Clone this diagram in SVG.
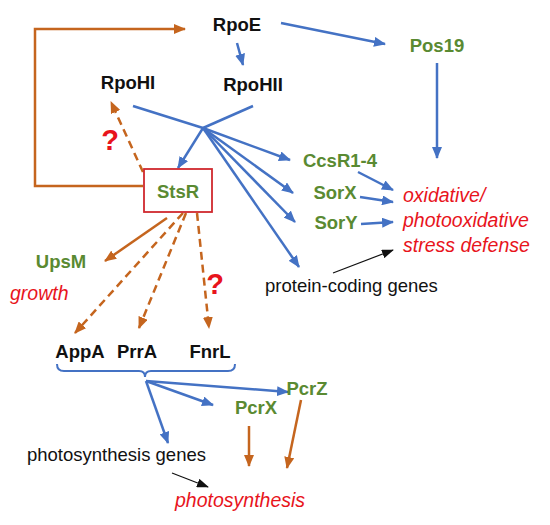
<svg xmlns="http://www.w3.org/2000/svg" width="550" height="525" viewBox="0 0 550 525">
<style>
.lbl{font-family:"Liberation Sans",Arial,sans-serif;font-weight:bold;font-size:18.5px;text-anchor:middle}
.blk{fill:#111}
.grn{fill:#5A8A32}
.red{font-family:"Liberation Sans",Arial,sans-serif;font-style:italic;font-size:19.5px;fill:#E8141C}
.plain{font-family:"Liberation Sans",Arial,sans-serif;font-size:18.5px;fill:#111}
.q{font-family:"Liberation Sans",Arial,sans-serif;font-weight:bold;font-size:29px;fill:#E8141C;text-anchor:middle}
.b{stroke:#4472C4;stroke-width:2.5;fill:none;marker-end:url(#ab)}
.o{stroke:#C5651E;stroke-width:2.5;fill:none}
.oa{marker-end:url(#ao)}
.d{stroke-dasharray:8 5}
.k{stroke:#111;stroke-width:1.2;fill:none;marker-end:url(#ak)}
</style>
<defs>
<marker id="ab" markerUnits="userSpaceOnUse" markerWidth="12" markerHeight="10" refX="11" refY="5" orient="auto" viewBox="0 0 12 10"><path d="M0,0 L12,5 L0,10 z" fill="#4472C4"/></marker>
<marker id="ao" markerUnits="userSpaceOnUse" markerWidth="12" markerHeight="10" refX="11" refY="5" orient="auto" viewBox="0 0 12 10"><path d="M0,0 L12,5 L0,10 z" fill="#C5651E"/></marker>
<marker id="ak" markerUnits="userSpaceOnUse" markerWidth="12" markerHeight="9" refX="11" refY="4.5" orient="auto" viewBox="0 0 12 9"><path d="M0,0 L12,4.5 L0,9 z" fill="#111"/></marker>
</defs>
<g id="connectors">
<path class="o oa" d="M143,186 H35 V29 H185"/>
<line class="b" x1="237" y1="43" x2="243" y2="65"/>
<line class="b" x1="281" y1="23" x2="385" y2="44"/>
<line class="b" x1="437" y1="63" x2="437" y2="158"/>
<line x1="133" y1="106" x2="203" y2="128" stroke="#4472C4" stroke-width="2.5"/>
<line x1="253" y1="106" x2="203" y2="128" stroke="#4472C4" stroke-width="2.5"/>
<line class="b" x1="203" y1="128" x2="178" y2="168"/>
<line class="b" x1="203" y1="128" x2="290" y2="160"/>
<line class="b" x1="203" y1="128" x2="293" y2="193"/>
<line class="b" x1="203" y1="128" x2="295" y2="222"/>
<line class="b" x1="203" y1="128" x2="299" y2="267"/>
<line class="b" x1="358" y1="172" x2="393" y2="190"/>
<line class="b" x1="360" y1="197" x2="393" y2="202"/>
<line class="b" x1="361" y1="224" x2="393" y2="222"/>
<line class="k" x1="333" y1="273" x2="393" y2="250"/>
<line class="o oa d" x1="143" y1="172" x2="111" y2="102"/>
<line class="o oa" x1="167" y1="218" x2="105" y2="261"/>
<line class="o oa d" x1="183" y1="213" x2="75" y2="333"/>
<line class="o oa d" x1="186" y1="213" x2="139" y2="328"/>
<line class="o oa d" x1="197" y1="213" x2="209" y2="328"/>
<path d="M57,364 Q57,371 64,371 L139,371 Q145,371 145,377 Q145,371 151,371 L228,371 Q235,371 235,364" stroke="#4472C4" stroke-width="2" fill="none"/>
<line class="b" x1="146" y1="381" x2="288" y2="392"/>
<line class="b" x1="146" y1="381" x2="213" y2="405"/>
<line class="b" x1="146" y1="381" x2="168" y2="443"/>
<line class="o oa" x1="249" y1="426" x2="249" y2="466"/>
<line class="o oa" x1="301" y1="400" x2="287" y2="468"/>
<line class="k" x1="172" y1="473" x2="208" y2="487"/>
</g>
<g id="RpoE"><text class="lbl blk" x="237" y="31">RpoE</text></g>
<g id="RpoHII"><text class="lbl blk" x="253" y="91">RpoHII</text></g>
<g id="RpoHI"><text class="lbl blk" x="128" y="89">RpoHI</text></g>
<g id="Pos19"><text class="lbl grn" x="437" y="52">Pos19</text></g>
<g id="CcsR1-4"><text class="lbl grn" x="340" y="167">CcsR1-4</text></g>
<g id="SorX"><text class="lbl grn" x="335" y="199">SorX</text></g>
<g id="SorY"><text class="lbl grn" x="336" y="229">SorY</text></g>
<g id="StsR"><rect x="144" y="169" width="68" height="43" fill="#fff" stroke="#D0282E" stroke-width="1.8"/><text class="lbl grn" x="178" y="198">StsR</text></g>
<g id="UpsM"><text class="lbl grn" x="61" y="268">UpsM</text></g>
<g id="growth"><text class="red" x="10" y="300">growth</text></g>
<g id="AppA"><text class="lbl blk" x="80" y="358">AppA</text></g>
<g id="PrrA"><text class="lbl blk" x="137" y="358">PrrA</text></g>
<g id="FnrL"><text class="lbl blk" x="210" y="358">FnrL</text></g>
<g id="PcrZ"><text class="lbl grn" x="307" y="395">PcrZ</text></g>
<g id="PcrX"><text class="lbl grn" x="256" y="414">PcrX</text></g>
<g id="protein-coding"><text class="plain" x="265" y="292">protein-coding genes</text></g>
<g id="photosynthesis-genes"><text class="plain" x="27" y="461">photosynthesis genes</text></g>
<g id="photosynthesis"><text class="red" x="175" y="507">photosynthesis</text></g>
<g id="stress"><text class="red" x="403" y="202">oxidative/</text><text class="red" x="403" y="227">photooxidative</text><text class="red" x="403" y="252">stress defense</text></g>
<g id="q1"><text class="q" x="110" y="150">?</text></g>
<g id="q2"><text class="q" x="215" y="294">?</text></g>
</svg>
